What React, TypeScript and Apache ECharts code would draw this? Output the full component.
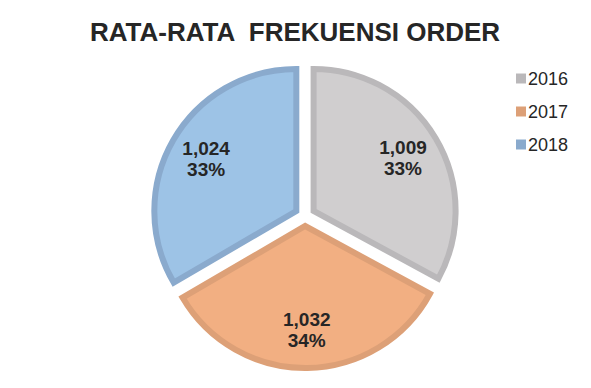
import React, { useEffect, useRef } from "react";
import * as echarts from "echarts";

const title = "RATA-RATA  FREKUENSI ORDER";
const categories = ["2016", "2017", "2018"];
const values = [1009, 1032, 1024];
const fillColors = ["#D0CECF", "#F2AF82", "#9DC3E6"];
const borderColors = ["#BAB8BA", "#DDA077", "#8AAACD"];

export default function App() {
  const ref = useRef<HTMLDivElement>(null);
  useEffect(() => {
    document.body.style.margin = "0";
    const chart = echarts.init(ref.current!, null, { renderer: "svg" });
    const font = "'Liberation Sans', Arial, sans-serif";
    const data = categories.map((c, i) => ({
      name: c,
      value: values[i],
      selected: true,
      itemStyle: { color: fillColors[i], borderColor: borderColors[i] },
    }));
    const labelData = categories.map((c, i) => ({
      name: c,
      value: values[i],
      selected: true,
    }));
    chart.setOption({
      animation: false,
      backgroundColor: "#ffffff",
      title: {
        text: title,
        left: 290,
        textAlign: "center",
        top: 14,
        textStyle: { fontFamily: font, fontSize: 26, fontWeight: "bold", color: "#262626" },
      },
      legend: {
        orient: "vertical",
        left: 511,
        top: 63,
        itemWidth: 10,
        itemHeight: 10,
        itemGap: 12,
        icon: "rect",
        data: categories.map((c, i) => ({ name: c, itemStyle: { color: borderColors[i], borderWidth: 0 } })),
        textStyle: { fontFamily: font, fontSize: 18, lineHeight: 21, color: "#262626", padding: [0, 0, 0, -3] },
      },
      series: [
        {
          type: "pie",
          center: [305, 216],
          radius: [0, 142],
          startAngle: 90,
          clockwise: true,
          selectedMode: "multiple",
          selectedOffset: 10,
          data,
          itemStyle: { borderWidth: 6, borderJoin: "miter", borderMiterLimit: 20 },
          label: { show: false },
          labelLine: { show: false },
          emphasis: { disabled: true },
          silent: true,
          legendHoverLink: false,
        },
        {
          type: "pie",
          center: [305, 216],
          radius: [60, 142],
          startAngle: 90,
          clockwise: true,
          selectedMode: "multiple",
          selectedOffset: 10,
          data: labelData,
          itemStyle: { color: "rgba(0,0,0,0)", borderWidth: 0 },
          label: {
            show: true,
            position: "inner",
            fontFamily: font,
            fontSize: 19,
            fontWeight: "bold",
            color: "#262626",
            lineHeight: 21,
            formatter: (p: any) => `${Number(p.value).toLocaleString("en-US")}\n${Math.round(p.percent)}%`,
          },
          labelLine: { show: false },
          emphasis: { disabled: true },
          silent: true,
          legendHoverLink: false,
        },
      ],
    });
    return () => chart.dispose();
  }, []);
  return <div ref={ref} style={{ width: 591, height: 388 }} />;
}
